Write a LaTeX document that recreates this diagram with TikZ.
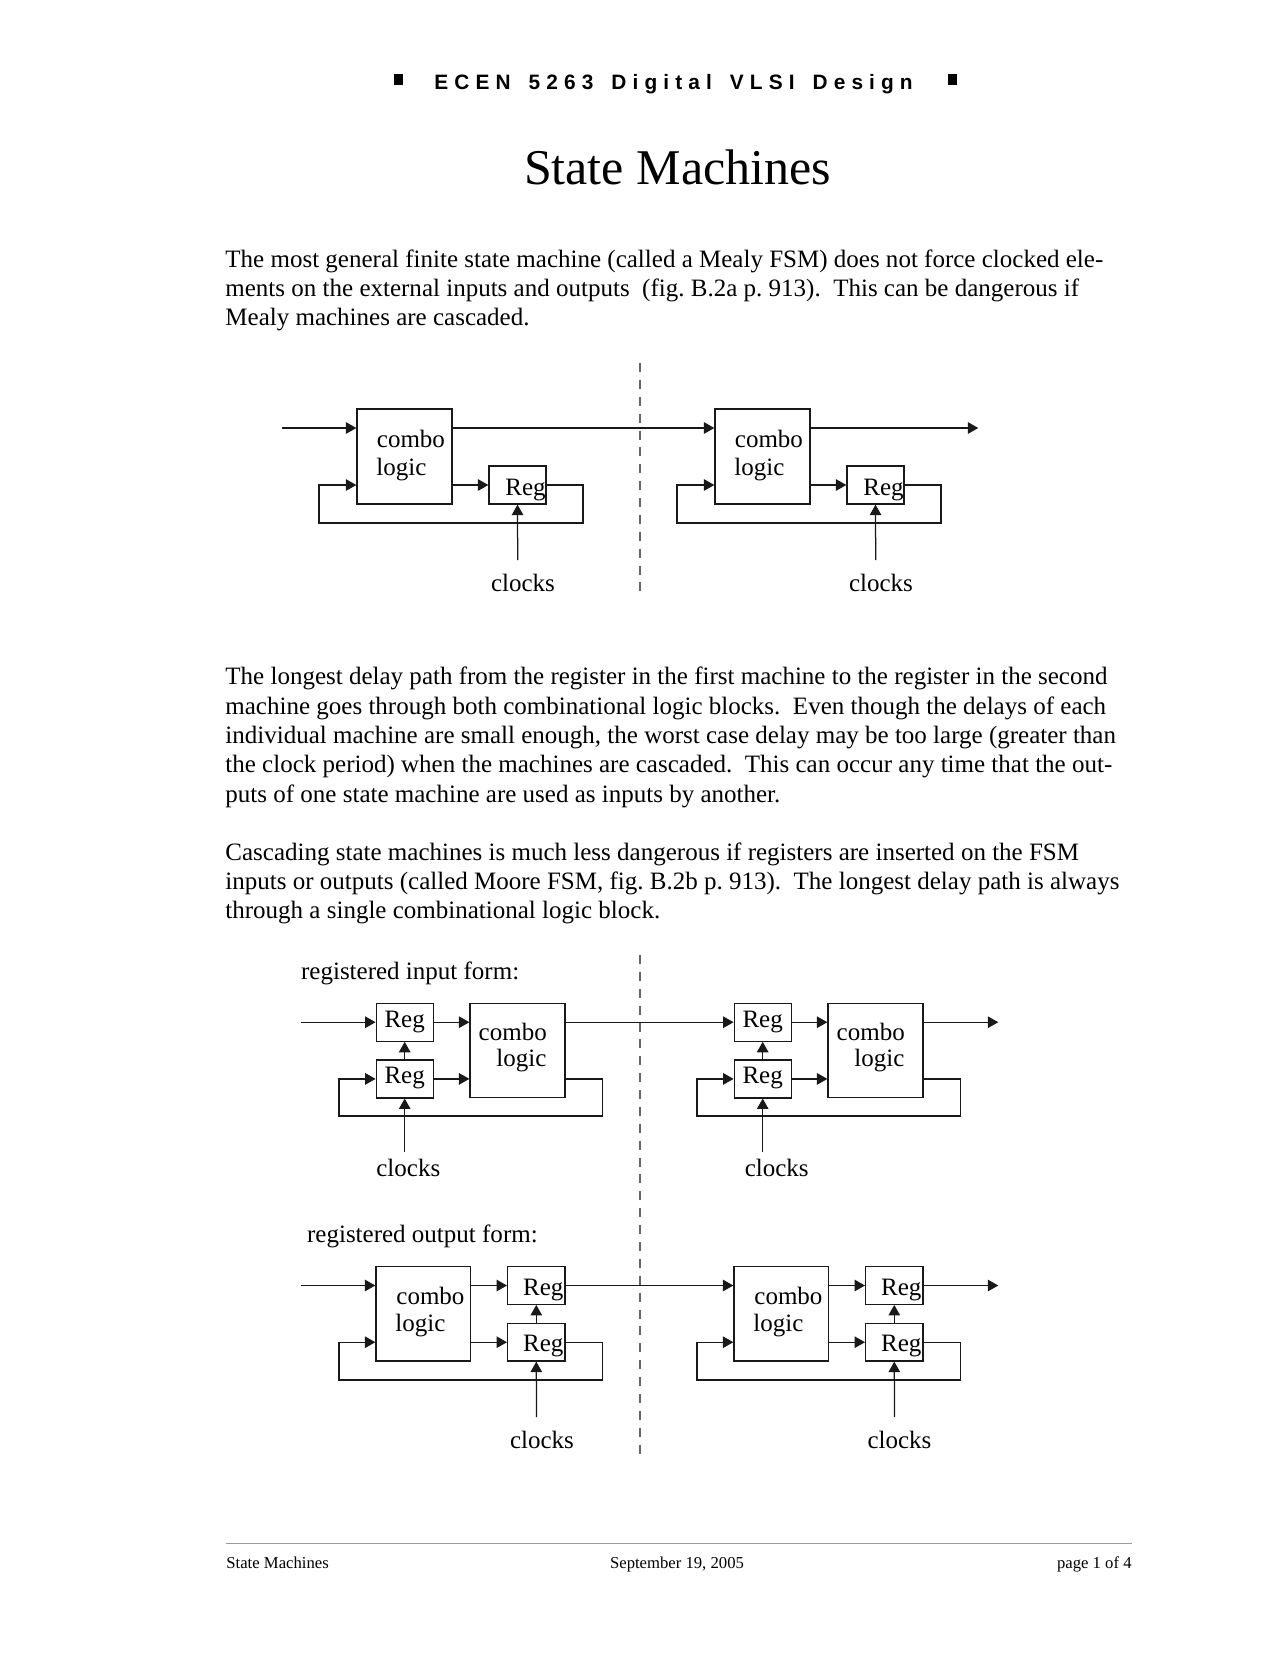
\documentclass[tikz,border=0pt]{standalone}
\usepackage{fontspec}
\setmainfont{Liberation Serif}
\newfontfamily\hdrfont{Liberation Sans}
\usetikzlibrary{arrows.meta}
\def\pu{0.4798pt}
\newcommand\mealyfsm[1]{%
  \node[blk, minimum width=95*\pu, minimum height=95*\pu] (combo) at (404.5,456.5) {};
  \node[blk, minimum width=57*\pu, minimum height=38*\pu] (reg) at (517.5,485) {};
  \coordinate (fbr) at (583,523);
  \coordinate (fbl) at (319,523);
  \coordinate (clk) at (517.7,560);
  \draw[arr] (combo.east |- reg.west) -- (reg.west);
  \draw[arr] (reg.east) -- (fbr |- reg.east) -- (fbr) -- (fbl) -- (fbl |- reg.east) -- (combo.west |- reg.east);
  \draw[arr] (clk) -- (reg.south);
  \node[txt, anchor=base west] (ct) at (376.5,447.3) {combo};
  \node[txt, anchor=base west] (lt) at (376,475) {logic};
  \node[txt, anchor=base west] (rt) at (505,495) {Reg};
  \node[txt, anchor=base] (clt) at (#1,591.7) {clocks};
}
\newcommand\rinfsm[1]{%
  \node[blk, minimum width=57*\pu, minimum height=38*\pu] (rega) at (404.7,1022.2) {};
  \node[blk, minimum width=57*\pu, minimum height=38*\pu] (regb) at (404.7,1078.9) {};
  \node[blk, minimum width=95*\pu, minimum height=94.4*\pu] (combo) at (517.5,1050.5) {};
  \coordinate (fbr) at (602.3,1116);
  \coordinate (fbl) at (339,1116);
  \coordinate (clk) at (404.7,1152);
  \draw[arr] (rega.east) -- (combo.west |- rega.east);
  \draw[arr] (regb.east) -- (combo.west |- regb.east);
  \draw[arr] (regb.north) -- (rega.south);
  \draw[arr] (combo.east |- regb.east) -- (fbr |- regb.east) -- (fbr) -- (fbl) -- (fbl |- regb.east) -- (regb.west);
  \draw[arr] (clk) -- (regb.south);
  \node[txt, anchor=base] (rta) at (404.7,1027.7) {Reg};
  \node[txt, anchor=base] (rtb) at (404.7,1083.3) {Reg};
  \node[txt, anchor=base west] (ct) at (478.3,1040) {combo};
  \node[txt, anchor=base west] (lt) at (496,1066.7) {logic};
  \node[txt, anchor=base] (clt) at (#1,1176) {clocks};
}
\newcommand\routfsm[1]{%
  \node[blk, minimum width=94.7*\pu, minimum height=94.3*\pu] (combo) at (423.3,1313.8) {};
  \node[blk, minimum width=57.3*\pu, minimum height=37.6*\pu] (rega) at (536.3,1285.5) {};
  \node[blk, minimum width=57.3*\pu, minimum height=37.6*\pu] (regb) at (536.3,1342.2) {};
  \coordinate (fbr) at (602.3,1380);
  \coordinate (fbl) at (339,1380);
  \coordinate (clk) at (536.5,1417);
  \draw[arr] (combo.east |- rega.west) -- (rega.west);
  \draw[arr] (combo.east |- regb.west) -- (regb.west);
  \draw[arr] (regb.north) -- (rega.south);
  \draw[arr] (regb.east) -- (fbr |- regb.east) -- (fbr) -- (fbl) -- (fbl |- regb.east) -- (combo.west |- regb.east);
  \draw[arr] (clk) -- (regb.south);
  \node[txt, anchor=base west] (ct) at (396,1304) {combo};
  \node[txt, anchor=base west] (lt) at (395,1331.7) {logic};
  \node[txt, anchor=base west] (rta) at (522.7,1295.7) {Reg};
  \node[txt, anchor=base west] (rtb) at (522.7,1351.7) {Reg};
  \node[txt, anchor=base] (clt) at (#1,1448.3) {clocks};
}
\begin{document}
\frenchspacing
\begin{tikzpicture}[x=0.4798pt, y=-0.4798pt,
  ln/.style={line width=0.6pt, draw=black!90},
  arr/.style={ln, -{Triangle[length=5pt,width=5.5pt]}},
  blk/.style={draw=black!90, line width=0.6pt, inner sep=0pt, rectangle},
  txt/.style={inner sep=0pt, font=\fontsize{12}{14}\selectfont},
  body/.style={inner sep=0pt, anchor=base west, font=\fontsize{12}{14}\selectfont},
  dashline/.style={draw=black!60, line width=0.6pt, dash pattern=on 4.3pt off 3.8pt},
  foot/.style={inner sep=0pt, font=\fontsize{8}{10}\selectfont}]
\useasboundingbox (0,0) rectangle (1280,1656);
% header
\fill (394,74) rectangle (403,85);
\fill (948,74) rectangle (957,85);
\node[inner sep=0pt, anchor=base west] (hdr) at (434,89.5) {\hdrfont\bfseries\fontsize{10}{12}\selectfont\makebox[229.5pt][s]{E\hfil C\hfil E\hfil N\hfil\ \hfil 5\hfil 2\hfil 6\hfil 3\hfil\ \hfil D\hfil i\hfil g\hfil i\hfil t\hfil a\hfil l\hfil\ \hfil V\hfil L\hfil S\hfil I\hfil\ \hfil D\hfil e\hfil s\hfil i\hfil g\hfil n}};
% title
\node[inner sep=0pt, anchor=base, font=\fontsize{24}{28}\selectfont] (title) at (677.5,184) {State Machines};
% paragraph 1
\node[body] (p1a) at (225,267) {The most general finite state machine (called a Mealy FSM) does not force clocked ele-};
\node[body] (p1b) at (225,296.3) {ments on the external inputs and outputs~ (fig. B.2a p. 913).~ This can be dangerous if};
\node[body] (p1c) at (225,325.6) {Mealy machines are cascaded.};
% paragraph 2
\node[body] (p2a) at (225,684.8) {The longest delay path from the register in the first machine to the register in the second};
\node[body] (p2b) at (225,714.1) {machine goes through both combinational logic blocks.~ Even though the delays of each};
\node[body] (p2c) at (225,743.4) {individual machine are small enough, the worst case delay may be too large (greater than};
\node[body] (p2d) at (225,772.7) {the clock period) when the machines are cascaded.~ This can occur any time that the out-};
\node[body] (p2e) at (225,802) {puts of one state machine are used as inputs by another.};
% paragraph 3
\node[body] (p3a) at (225,860) {Cascading state machines is much less dangerous if registers are inserted on the FSM};
\node[body] (p3b) at (225,889.3) {inputs or outputs (called Moore FSM, fig. B.2b p. 913).~ The longest delay path is always};
\node[body] (p3c) at (225,918.6) {through a single combinational logic block.};
% dashed separators
\coordinate (d1t) at (640,363);
\coordinate (d1b) at (640,598);
\coordinate (d2t) at (640,955);
\coordinate (d2b) at (640,1456);
\draw[dashline] (d1t) -- (d1b);
\draw[dashline] (d2t) -- (d2b);
% Mealy machines
\begin{scope}[name prefix=A-]\mealyfsm{523}\end{scope}
\begin{scope}[shift={(358,0)}, name prefix=B-]\mealyfsm{523}\end{scope}
\coordinate (inA) at (282,428);
\coordinate (outB) at (978.3,428);
\draw[arr] (inA) -- (A-combo.west |- inA);
\draw[arr] (A-combo.east |- inA) -- (B-combo.west |- inA);
\draw[arr] (B-combo.east |- inA) -- (outB);
% registered input form
\node[txt, anchor=base west] (rinlbl) at (300.7,979.3) {registered input form:};
\begin{scope}[name prefix=C-]\rinfsm{408.3}\end{scope}
\begin{scope}[shift={(358,0)}, name prefix=D-]\rinfsm{418.7}\end{scope}
\coordinate (inC) at (300.7,1022.2);
\coordinate (outD) at (998.3,1022.2);
\draw[arr] (inC) -- (C-rega.west);
\draw[arr] (C-combo.east |- C-rega.east) -- (D-rega.west);
\draw[arr] (D-combo.east |- D-rega.east) -- (outD);
% registered output form
\node[txt, anchor=base west] (routlbl) at (306.7,1242.7) {registered output form:};
\begin{scope}[name prefix=E-]\routfsm{542}\end{scope}
\begin{scope}[shift={(358,0)}, name prefix=F-]\routfsm{541.5}\end{scope}
\coordinate (inE) at (300.7,1285.5);
\coordinate (outF) at (998.3,1285.5);
\draw[arr] (inE) -- (E-combo.west |- inE);
\draw[arr] (E-rega.east) -- (F-combo.west |- E-rega.east);
\draw[arr] (F-rega.east) -- (outF);
% footer
\coordinate (fl) at (226,1543.3);
\coordinate (fr) at (1132,1543.3);
\draw[draw=black!40, line width=0.6pt] (fl) -- (fr);
\node[foot, anchor=base west] (f1) at (226,1568.3) {State Machines};
\node[foot, anchor=base] (f2) at (677,1568.3) {September 19, 2005};
\node[foot, anchor=base east] (f3) at (1132,1568.3) {page 1 of 4};
\end{tikzpicture}
\end{document}
